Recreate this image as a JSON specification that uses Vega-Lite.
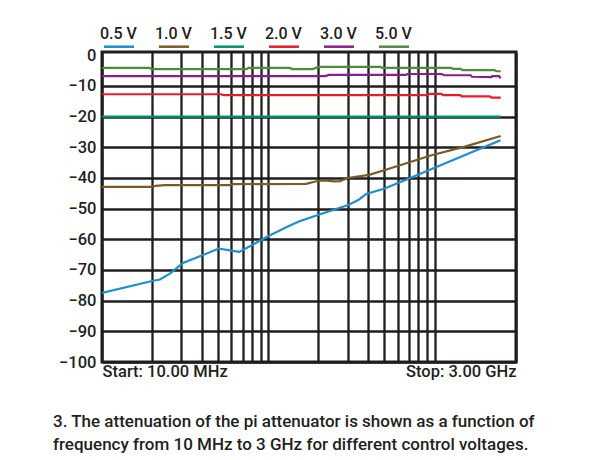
{
  "$schema": "https://vega.github.io/schema/vega-lite/v6.json",
  "width": 414,
  "height": 310,
  "autosize": {"type": "none"},
  "padding": {"left": 102, "top": 52, "right": 79, "bottom": 98},
  "background": "white",
  "config": {
    "view": {"stroke": "#1e1e1e", "strokeWidth": 3, "fill": "white"},
    "font": "Roboto"
  },
  "title": {
    "text": ["3. The attenuation of the pi attenuator is shown as a function of", "frequency from 10 MHz to 3 GHz for different control voltages."],
    "orient": "bottom",
    "anchor": "start",
    "frame": "group",
    "dx": -49,
    "offset": 34,
    "fontSize": 17,
    "font": "Roboto",
    "fontWeight": 500,
    "color": "#231f20",
    "lineHeight": 23
  },
  "data": {
    "values": [
      {"s": "0.5 V", "f": 10, "v": -77.5},
      {"s": "0.5 V", "f": 20, "v": -73.6},
      {"s": "0.5 V", "f": 22.3, "v": -73.1},
      {"s": "0.5 V", "f": 25.6, "v": -71.2},
      {"s": "0.5 V", "f": 30.7, "v": -67.7},
      {"s": "0.5 V", "f": 38.8, "v": -65.5},
      {"s": "0.5 V", "f": 50.4, "v": -63.0},
      {"s": "0.5 V", "f": 60, "v": -63.7},
      {"s": "0.5 V", "f": 67, "v": -64.1},
      {"s": "0.5 V", "f": 79, "v": -62.0},
      {"s": "0.5 V", "f": 99, "v": -59.1},
      {"s": "0.5 V", "f": 134, "v": -55.6},
      {"s": "0.5 V", "f": 154, "v": -54.1},
      {"s": "0.5 V", "f": 203, "v": -51.9},
      {"s": "0.5 V", "f": 303, "v": -48.8},
      {"s": "0.5 V", "f": 352, "v": -47.0},
      {"s": "0.5 V", "f": 388, "v": -45.2},
      {"s": "0.5 V", "f": 497, "v": -43.5},
      {"s": "0.5 V", "f": 702, "v": -40.2},
      {"s": "0.5 V", "f": 977, "v": -36.9},
      {"s": "0.5 V", "f": 1538, "v": -32.4},
      {"s": "0.5 V", "f": 2495, "v": -27.7},
      {"s": "1.0 V", "f": 10, "v": -42.9},
      {"s": "1.0 V", "f": 20, "v": -42.9},
      {"s": "1.0 V", "f": 21, "v": -42.6},
      {"s": "1.0 V", "f": 24, "v": -42.3},
      {"s": "1.0 V", "f": 59, "v": -42.3},
      {"s": "1.0 V", "f": 61, "v": -42.0},
      {"s": "1.0 V", "f": 169, "v": -41.9},
      {"s": "1.0 V", "f": 200, "v": -40.9},
      {"s": "1.0 V", "f": 225, "v": -40.9},
      {"s": "1.0 V", "f": 250, "v": -41.1},
      {"s": "1.0 V", "f": 270, "v": -41.0},
      {"s": "1.0 V", "f": 300, "v": -40.0},
      {"s": "1.0 V", "f": 404, "v": -39.0},
      {"s": "1.0 V", "f": 532, "v": -37.0},
      {"s": "1.0 V", "f": 960, "v": -32.6},
      {"s": "1.0 V", "f": 1540, "v": -29.7},
      {"s": "1.0 V", "f": 2500, "v": -26.3},
      {"s": "1.5 V", "f": 10, "v": -20},
      {"s": "1.5 V", "f": 2500, "v": -20},
      {"s": "2.0 V", "f": 10, "v": -12.7},
      {"s": "2.0 V", "f": 52, "v": -12.7},
      {"s": "2.0 V", "f": 54, "v": -13.0},
      {"s": "2.0 V", "f": 900, "v": -13.0},
      {"s": "2.0 V", "f": 930, "v": -12.6},
      {"s": "2.0 V", "f": 1100, "v": -12.6},
      {"s": "2.0 V", "f": 1130, "v": -13.0},
      {"s": "2.0 V", "f": 1430, "v": -13.0},
      {"s": "2.0 V", "f": 1460, "v": -13.4},
      {"s": "2.0 V", "f": 2150, "v": -13.4},
      {"s": "2.0 V", "f": 2200, "v": -13.8},
      {"s": "2.0 V", "f": 2500, "v": -13.8},
      {"s": "3.0 V", "f": 10, "v": -6.8},
      {"s": "3.0 V", "f": 220, "v": -6.8},
      {"s": "3.0 V", "f": 232, "v": -6.4},
      {"s": "3.0 V", "f": 670, "v": -6.4},
      {"s": "3.0 V", "f": 690, "v": -6.1},
      {"s": "3.0 V", "f": 1100, "v": -6.1},
      {"s": "3.0 V", "f": 1140, "v": -6.5},
      {"s": "3.0 V", "f": 1650, "v": -6.5},
      {"s": "3.0 V", "f": 1680, "v": -7.0},
      {"s": "3.0 V", "f": 2200, "v": -7.1},
      {"s": "3.0 V", "f": 2220, "v": -6.8},
      {"s": "3.0 V", "f": 2440, "v": -6.8},
      {"s": "3.0 V", "f": 2500, "v": -7.5},
      {"s": "5.0 V", "f": 10, "v": -4.1},
      {"s": "5.0 V", "f": 19.3, "v": -4.1},
      {"s": "5.0 V", "f": 19.8, "v": -4.5},
      {"s": "5.0 V", "f": 74, "v": -4.5},
      {"s": "5.0 V", "f": 76, "v": -4.1},
      {"s": "5.0 V", "f": 134, "v": -4.1},
      {"s": "5.0 V", "f": 140, "v": -4.5},
      {"s": "5.0 V", "f": 185, "v": -4.5},
      {"s": "5.0 V", "f": 200, "v": -3.8},
      {"s": "5.0 V", "f": 475, "v": -3.8},
      {"s": "5.0 V", "f": 485, "v": -4.1},
      {"s": "5.0 V", "f": 1260, "v": -4.1},
      {"s": "5.0 V", "f": 1290, "v": -4.45},
      {"s": "5.0 V", "f": 1440, "v": -4.45},
      {"s": "5.0 V", "f": 1470, "v": -4.8},
      {"s": "5.0 V", "f": 2300, "v": -4.8},
      {"s": "5.0 V", "f": 2350, "v": -5.2},
      {"s": "5.0 V", "f": 2500, "v": -5.2}
    ]
  },
  "mark": {"type": "line", "strokeWidth": 2.2, "clip": true},
  "encoding": {
    "x": {
      "field": "f",
      "type": "quantitative",
      "scale": {"type": "log", "domain": [10, 3090], "nice": false},
      "axis": {
        "values": [10, 20, 30, 40, 50, 60, 70, 80, 90, 100, 200, 300, 400, 500, 600, 700, 800, 900, 1000, 3090],
        "labelExpr": "datum.value == 10 ? 'Start: 10.00 MHz' : (datum.value > 2000 ? 'Stop: 3.00 GHz' : '')",
        "labelFlush": true,
        "labelOverlap": false,
        "labelBound": false,
        "ticks": false,
        "domain": false,
        "grid": true,
        "gridColor": "#1e1e1e",
        "gridWidth": 2.3,
        "labelPadding": 1,
        "labelFontSize": 16.5,
        "labelFont": "Roboto",
        "labelFontWeight": 500,
        "labelColor": "#231f20",
        "title": null
      }
    },
    "y": {
      "field": "v",
      "type": "quantitative",
      "scale": {"domain": [-100, 1.08], "nice": false, "zero": false},
      "axis": {
        "values": [0, -10, -20, -30, -40, -50, -60, -70, -80, -90, -100],
        "grid": true,
        "gridColor": "#1e1e1e",
        "gridWidth": 2.3,
        "gridOpacity": {"condition": {"test": "datum.value == 0", "value": 0}, "value": 1},
        "ticks": false,
        "domain": false,
        "labelPadding": 6,
        "labelFontSize": 16.5,
        "labelFont": "Roboto",
        "labelFontWeight": 500,
        "labelColor": "#231f20",
        "title": null
      }
    },
    "color": {
      "field": "s",
      "type": "nominal",
      "scale": {
        "domain": ["0.5 V", "1.0 V", "1.5 V", "2.0 V", "3.0 V", "5.0 V"],
        "range": ["#1b8fd0", "#7b5b22", "#00936b", "#e31e2a", "#8c1b8d", "#4d8c3d"]
      },
      "legend": {
        "title": null,
        "orient": "none",
        "legendX": -18,
        "legendY": -26,
        "direction": "horizontal",
        "symbolType": "M 12 12.4 L 42 12.4",
        "symbolSize": 4,
        "symbolStrokeWidth": 2.5,
        "labelFontSize": 16,
        "labelFont": "Roboto",
        "labelFontWeight": 500,
        "labelColor": "#231f20",
        "labelOffset": 0,
        "columnPadding": 0,
        "padding": 0,
        "labelLimit": 100
      }
    }
  }
}
